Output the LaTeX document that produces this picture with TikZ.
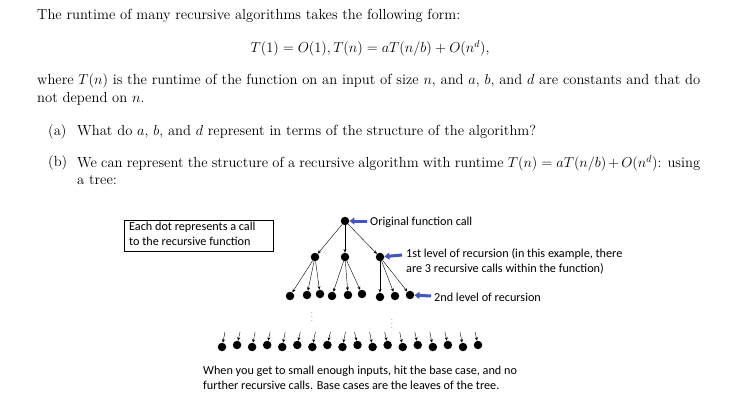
\documentclass[tikz,border=0pt]{standalone}
\usepackage{fontspec}
\newfontfamily\carlitofam{Carlito}
\usetikzlibrary{arrows.meta}
\definecolor{bl}{RGB}{68,84,196}
\begin{document}
\begin{tikzpicture}[x=1pt,y=-1pt,
  dot/.style={circle,fill=black,inner sep=0pt,minimum size=8.5pt},
  edge/.style={-{Stealth[length=3.5pt,width=3pt]},thin},
  barr/.style={-{Triangle[length=5pt,width=7pt]},line width=3pt,bl},
  txt/.style={font=\fontsize{14.6}{17.3}\selectfont,inner sep=0pt},
  lab/.style={font=\carlitofam\fontsize{12.2}{14.5}\selectfont,inner sep=0pt,anchor=base west,align=left}]
\useasboundingbox (0,0) rectangle (755,401);
\node[txt,anchor=base west] (l1) at (37,20) {The runtime of many recursive algorithms takes the following form:};
\node[txt,anchor=base] (eq) at (370,53) {$T(1)=O(1), T(n)=aT(n/b)+O(n^d),$};
\node[txt,anchor=north west,text width=663pt,align=justify] (p) at (37,74) {where $T(n)$ is the runtime of the function on an input of size $n$, and $a$, $b$, and $d$ are constants and that do not depend on $n$.};
\node[txt,anchor=base west] (ia) at (48,136) {(a)};
\node[txt,anchor=base west] (ta) at (77,136) {What do $a$, $b$, and $d$ represent in terms of the structure of the algorithm?};
\node[txt,anchor=base west] (ib) at (48,167) {(b)};
\node[txt,anchor=north west,text width=623pt,align=justify] (tb) at (77,155) {We can represent the structure of a recursive algorithm with runtime $T(n)=aT(n/b)+O(n^d)$: using a tree:};
% box
\node[draw,anchor=north west,minimum width=149pt,minimum height=31pt] (box) at (124,220) {};
\node[lab] (bt) at (129,245) {Each dot represents a call\\to the recursive function};
% tree
\node[dot] (r) at (345,221) {};
\node[dot] (a1) at (315,257) {};
\node[dot] (a2) at (345,257) {};
\node[dot] (a3) at (380,257) {};
\foreach \i/\x/\y/\p in {1/290/296/a1,2/307/295/a1,3/320/294/a1,4/332/296/a2,5/348/295/a2,6/362/294/a2,7/380/297/a3,8/395/296/a3,9/410/295/a3}{
  \node[dot] (b\i) at (\x,\y) {};
  \draw[edge] (\p) -- (b\i);
}
\foreach \c in {a1,a2,a3} \draw[edge] (r) -- (\c);
\node[inner sep=0pt,font=\scriptsize] (v1) at (312,314) {$\vdots$};
\node[inner sep=0pt,font=\scriptsize] (v2) at (392,321) {$\vdots$};
\foreach \i in {0,...,17}{
  \pgfmathsetmacro\x{222+\i*15.06}
  \pgfmathsetmacro\y{347+mod(\i,2)*(-2)}
  \pgfmathsetmacro\dx{\i<9 ? 3 : -3}
  \node[dot] (c\i) at (\x,\y) {};
  \coordinate (s\i) at (\x+\dx,332);
  \draw[edge] (s\i) -- (c\i);
}
\node[lab] (t1) at (370,225) {Original function call};
\node[lab] (t2) at (406,272) {1st level of recursion (in this example, there\\are 3 recursive calls within the function)};
\node[lab] (t3) at (434,301) {2nd level of recursion};
\node[lab] (t4) at (203,389) {When you get to small enough inputs, hit the base case, and no\\further recursive calls. Base cases are the leaves of the tree.};
\coordinate (e1) at (367,221); \draw[barr] (e1) -- (r);
\coordinate (e2) at (402,255); \draw[barr] (e2) -- (a3);
\coordinate (e3) at (431,296); \draw[barr] (e3) -- (b9);
\end{tikzpicture}
\end{document}
